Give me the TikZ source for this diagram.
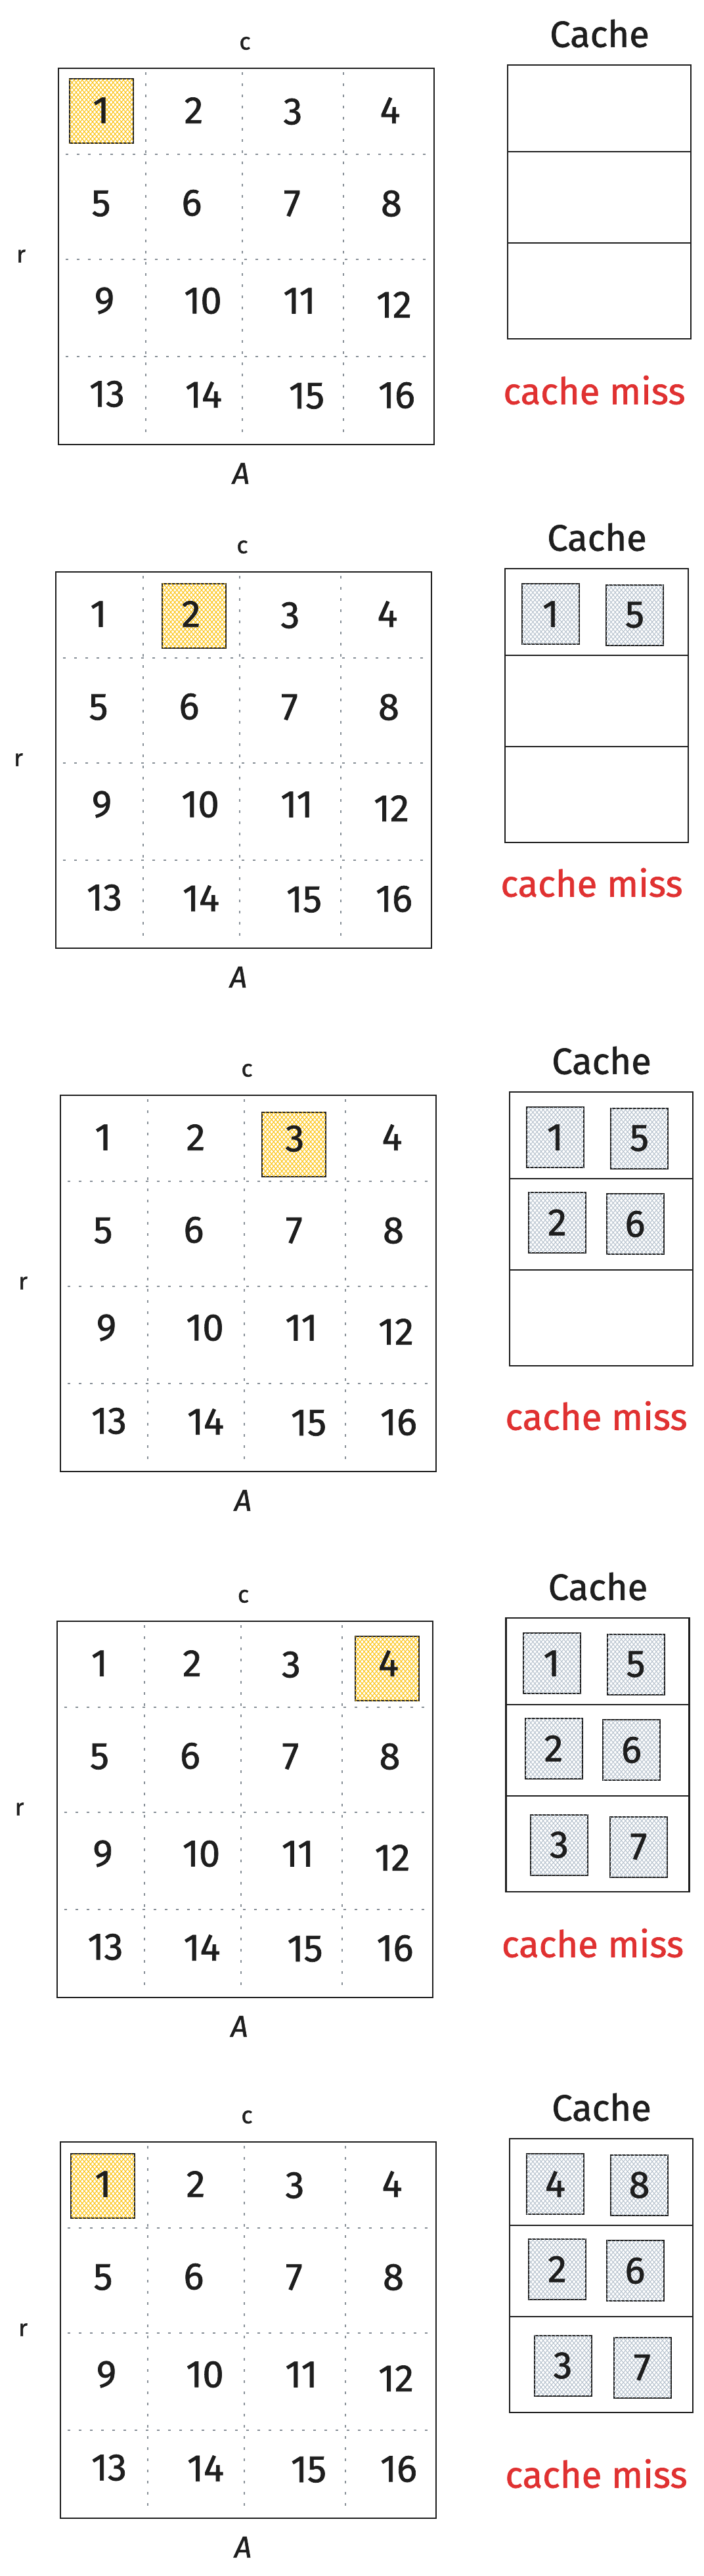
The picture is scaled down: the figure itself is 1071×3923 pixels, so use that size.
\documentclass[tikz,border=0pt]{standalone}
\usepackage{fontspec}
\setmainfont{Fira Sans}[FakeBold=1.2]
\usetikzlibrary{patterns.meta}
\definecolor{ink}{HTML}{1E1E1E}
\definecolor{missred}{HTML}{E03131}
\definecolor{hatchy}{HTML}{FCC419}
\definecolor{hatchg}{HTML}{B4C0CC}
\definecolor{dotgray}{HTML}{868E96}
\tikzset{
  num/.style={font=\fontsize{58}{58}\selectfont, text=ink, inner sep=0pt},
  lbl/.style={font=\fontsize{36}{36}\selectfont, text=ink, inner sep=0pt},
  albl/.style={font=\fontsize{46}{46}\selectfont\itshape, text=ink, inner sep=0pt},
  ttl/.style={font=\fontsize{56}{56}\selectfont, text=ink, inner sep=0pt},
  miss/.style={font=\fontsize{56}{56}\selectfont, text=missred, inner sep=0pt},
  matbox/.style={draw=ink, line width=2pt, minimum width=572pt, minimum height=573pt, inner sep=0pt},
  cachebox/.style={draw=ink, line width=2.2pt, minimum width=279pt, minimum height=417pt, inner sep=0pt},
  divider/.style={draw=ink, line width=2.2pt},
  dotline/.style={draw=dotgray, line width=2pt, dash pattern=on 4pt off 13pt},
  hl/.style={draw=ink, line width=2pt, minimum width=97pt, minimum height=98pt, inner sep=0pt,
    preaction={fill=white},
    pattern={Lines[angle=50,distance=4.8pt,line width=1.1pt]}, pattern color=hatchy,
    postaction={pattern={Lines[angle=-50,distance=4.8pt,line width=1.1pt]}, pattern color=hatchy}},
  blk/.style={num, draw=ink, line width=2pt, minimum width=87pt, minimum height=92pt,
    preaction={fill=white},
    pattern={Lines[angle=50,distance=4.8pt,line width=1pt]}, pattern color=hatchg,
    postaction={pattern={Lines[angle=-50,distance=4.8pt,line width=1pt]}, pattern color=hatchg}},
}
% #1 name, #2 ox, #3 oy, #4 miss y, #5 hl x, #6 hl y
\newcommand\drawpanel[6]{%
\begin{scope}[shift={(#2,#3)}]
  \node[hl] (#1-hl) at (#5,#6) {};
  \node[matbox] (#1-A) at (286,286.5) {};
  \draw[dotline] (133,6) -- (133,558);
  \draw[dotline] (280,6) -- (280,558);
  \draw[dotline] (434,6) -- (434,558);
  \draw[dotline] (11,131) -- (563,131);
  \draw[dotline] (11,291) -- (563,291);
  \draw[dotline] (11,439) -- (563,439);
  \node[num] (#1-n1) at (65,64) {1};
  \node[num] (#1-n2) at (206,64) {2};
  \node[num] (#1-n3) at (357,66) {3};
  \node[num] (#1-n4) at (505,64) {4};
  \node[num] (#1-n5) at (65,206) {5};
  \node[num] (#1-n6) at (203,205) {6};
  \node[num] (#1-n7) at (356,206) {7};
  \node[num] (#1-n8) at (507,206) {8};
  \node[num] (#1-n9) at (70,354) {9};
  \node[num] (#1-n10) at (220,354) {10};
  \node[num] (#1-n11) at (367,354) {11};
  \node[num] (#1-n12) at (511,360) {12};
  \node[num] (#1-n13) at (74,496) {13};
  \node[num] (#1-n14) at (221,497) {14};
  \node[num] (#1-n15) at (378,499) {15};
  \node[num] (#1-n16) at (515,498) {16};
  \node[lbl] (#1-c) at (284,-38) {c};
  \node[lbl] (#1-r) at (-57,286) {r};
  \node[albl] (#1-Alab) at (278,617) {A};
  \node[ttl] (#1-title) at (824,-53) {Cache};
  \node[cachebox] (#1-cache) at (823.5,203.5) {};
  \draw[divider] (684,127) -- (963,127);
  \draw[divider] (684,266) -- (963,266);
  \node[miss] (#1-miss) at (816,#4) {cache miss};
\end{scope}}
\begin{document}
\begin{tikzpicture}[x=1pt,y=-1pt]
\useasboundingbox (0,0) rectangle (1071,3923);
\fill[white] (0,0) rectangle (1071,3923);
% panel 1
\drawpanel{p1}{89}{104}{490}{65}{65.5}
% panel 2
\drawpanel{p2}{85}{871}{473}{210}{66.5}
\begin{scope}[shift={(85,871)}]
  \node[blk] (p2-b1) at (753.5,64) {1};
  \node[blk] (p2-b5) at (881.5,65.5) {5};
\end{scope}
% panel 3
\drawpanel{p3}{92}{1668}{488}{355.5}{74.5}
\begin{scope}[shift={(92,1668)}]
  \node[blk] (p3-b1) at (753.5,64) {1};
  \node[blk] (p3-b5) at (881.5,65.5) {5};
  \node[blk] (p3-b2) at (756.5,193.5) {2};
  \node[blk] (p3-b6) at (875,196) {6};
\end{scope}
% panel 4
\drawpanel{p4}{86.5}{2469}{490}{502.5}{72}
\begin{scope}[shift={(86.5,2469)}]
  \node[blk] (p4-b1) at (753.5,64) {1};
  \node[blk] (p4-b5) at (881.5,65.5) {5};
  \node[blk] (p4-b2) at (756.5,193.5) {2};
  \node[blk] (p4-b6) at (875,196) {6};
  \node[blk] (p4-b3) at (765,340.5) {3};
  \node[blk] (p4-b7) at (886,343.5) {7};
\end{scope}
% panel 5
\drawpanel{p5}{92}{3262}{505}{64.5}{67}
\begin{scope}[shift={(92,3262)}]
  \node[blk] (p5-b4) at (753.5,64) {4};
  \node[blk] (p5-b8) at (881.5,65.5) {8};
  \node[blk] (p5-b2) at (756.5,193.5) {2};
  \node[blk] (p5-b6) at (875,196) {6};
  \node[blk] (p5-b3) at (765,340.5) {3};
  \node[blk] (p5-b7) at (886,343.5) {7};
\end{scope}
\end{tikzpicture}
\end{document}
